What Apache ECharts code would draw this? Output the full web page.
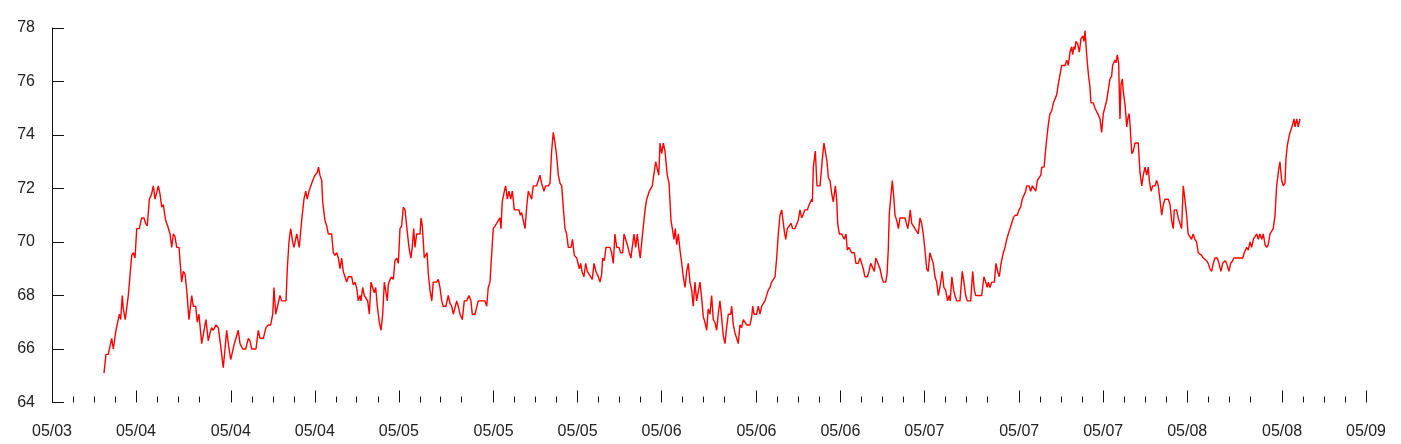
<!DOCTYPE html>
<html>
<head>
<meta charset="utf-8">
<script src="https://cdn.jsdelivr.net/npm/echarts@6/dist/echarts.min.js"></script>
<style>
html,body{margin:0;padding:0;background:#fff;}
#chart{width:1401px;height:444px;}
</style>
</head>
<body>
<div id="chart"></div>
<script>
// Elapsed hours from the left edge of the time axis
const hours = [
4.75,4.93,5.14,5.45,5.60,5.84,6.05,6.15,6.27,6.42,
6.51,6.69,6.97,7.28,7.42,7.58,7.74,7.97,8.19,8.40,
8.55,8.70,8.89,9.10,9.25,9.41,9.56,9.71,9.86,10.02,
10.16,10.38,10.57,10.78,10.93,11.08,11.23,11.39,11.60,11.84,
11.99,12.15,12.30,12.51,12.76,12.90,13.12,13.27,13.42,13.67,
13.82,14.06,14.27,14.43,14.58,14.73,14.98,15.19,15.41,15.64,
15.80,15.95,16.10,16.32,16.50,16.65,16.80,17.01,17.17,17.42,
17.69,17.93,18.08,18.24,18.63,18.84,19.00,19.30,19.54,19.75,
19.97,20.16,20.27,20.43,20.57,20.82,20.98,21.37,21.49,21.64,
21.80,21.98,22.10,22.35,22.58,22.80,23.01,23.17,23.31,23.47,
23.63,23.81,24.02,24.23,24.34,24.47,24.63,24.72,24.93,25.09,
25.23,25.54,25.69,25.84,26.00,26.15,26.30,26.45,26.60,26.76,
26.91,27.06,27.37,27.51,27.67,27.82,27.97,28.13,28.22,28.37,
28.52,28.67,28.83,28.98,29.13,29.28,29.43,29.56,29.71,29.89,
30.05,30.20,30.35,30.47,30.62,30.71,30.87,31.02,31.17,31.32,
31.48,31.63,31.78,31.93,32.08,32.24,32.39,32.60,32.78,32.90,
33.03,33.15,33.30,33.45,33.61,33.70,33.82,34.00,34.13,34.25,
34.37,34.52,34.68,34.82,35.13,35.28,35.43,35.59,35.73,35.98,
36.19,36.35,36.50,36.65,36.80,36.96,37.10,37.26,37.47,37.65,
37.87,38.08,38.26,38.38,38.63,38.79,38.93,39.24,39.54,39.70,
39.84,40.00,40.16,40.30,40.46,40.61,40.76,40.91,41.00,41.12,
41.31,41.43,41.58,41.73,41.89,42.04,42.22,42.44,42.65,42.77,
42.89,43.04,43.20,43.35,43.50,43.65,43.80,43.95,44.11,44.26,
44.41,44.56,44.71,44.93,45.08,45.32,45.48,45.63,45.78,45.94,
46.09,46.24,46.39,46.55,46.69,46.85,47.00,47.15,47.40,47.53,
47.70,47.92,48.16,48.28,48.40,48.58,48.74,48.89,49.04,49.20,
49.34,49.50,49.68,49.89,50.05,50.20,50.29,50.44,50.59,50.75,
50.96,51.11,51.26,51.41,51.57,51.78,51.93,52.12,52.24,52.42,
52.54,52.72,52.87,52.99,53.15,53.30,53.45,53.58,53.72,53.88,
54.00,54.16,54.31,54.46,54.55,54.70,54.82,54.98,55.13,55.28,
55.41,55.53,55.68,55.83,55.98,56.19,56.35,56.53,56.65,56.80,
56.92,57.05,57.20,57.35,57.51,57.65,57.81,57.96,58.11,58.26,
58.42,58.56,58.72,58.87,59.02,59.18,59.33,59.48,59.63,59.79,
59.93,60.09,60.24,60.39,60.54,60.70,60.84,61.00,61.15,61.30,
61.46,61.61,61.76,61.98,62.07,62.22,62.37,62.53,62.67,62.83,
62.98,63.13,63.29,63.44,63.74,63.90,63.99,64.11,64.35,64.50,
64.66,64.81,64.96,65.11,65.27,65.41,65.57,65.72,65.87,66.03,
66.18,66.33,66.48,66.64,66.76,66.88,67.01,67.15,67.33,67.49,
67.64,67.85,68.01,68.15,68.31,68.46,68.61,68.76,68.97,69.16,
69.38,69.44,69.53,69.71,69.86,70.14,70.35,70.50,70.66,70.78,
70.90,71.05,71.21,71.35,71.54,71.66,71.75,71.90,72.12,72.26,
72.35,72.51,72.63,72.78,72.87,73.03,73.27,73.42,73.63,73.79,
73.94,74.09,74.24,74.46,74.61,74.77,74.95,75.10,75.23,75.34,
75.46,75.62,75.77,75.92,76.14,76.26,76.37,76.47,76.63,76.74,
76.87,76.99,77.15,77.30,77.44,77.60,77.90,78.06,78.15,78.27,
78.38,78.51,78.66,78.81,78.97,79.11,79.27,79.42,79.57,79.72,
79.88,80.02,80.17,80.33,80.48,80.64,80.79,80.94,81.09,81.30,
81.45,81.61,81.79,81.94,82.03,82.18,82.34,82.46,82.62,82.92,
83.13,83.28,83.44,83.59,83.90,84.08,84.23,84.36,84.59,84.90,
85.11,85.27,85.42,85.51,85.66,85.82,86.06,86.21,86.36,86.51,
86.67,86.88,87.03,87.19,87.33,87.49,87.64,87.79,87.94,88.15,
88.31,88.46,88.61,88.77,88.92,89.01,89.22,89.38,89.53,89.71,
89.84,89.99,90.14,90.30,90.39,90.60,90.78,90.99,91.14,91.30,
91.45,91.60,91.75,91.90,92.06,92.21,92.36,92.51,92.67,92.81,
92.97,93.12,93.21,93.33,93.42,93.51,93.67,93.82,93.97,94.13,
94.25,94.34,94.49,94.64,94.79,94.88,95.10,95.25,95.41,95.50,
95.64,95.71,95.86,96.01,96.16,96.32,96.47,96.62,96.77,96.86,
96.98,97.07,97.17,97.29,97.41,97.53,97.63,97.75,97.84,98.00,
98.15,98.24,98.36,98.45,98.61,98.75,98.90,99.20,99.36,99.52,
99.66,99.82,99.97,100.12,100.21,100.37,100.52,100.73,100.88,101.03,
101.18,101.34,101.49,101.64,101.94,102.10,102.25,102.40,102.49,102.71,
102.85,103.01,103.16,103.31,103.46,103.62,103.76,103.92,104.07,104.22,
104.37,104.53,104.68,104.84,104.99,105.14,105.30,105.45,105.59,105.75,
105.90,106.05,106.21,106.42,106.57,106.75,106.91,107.12,107.27,107.48,
107.64,107.82,107.94,108.19,108.49,108.74,108.88,109.10,109.25,109.41,
109.56,109.71,109.87,110.02,110.17,110.32,110.48,110.62,110.78,110.93,
111.08,111.23,111.39,111.53,111.69,111.84,111.99,112.14,112.30,112.45,
112.60,112.69,112.81,113.00,113.15,113.31,113.42,113.52,113.67,113.82,113.97
];

// Temperature readings
const temps = [
65.1,65.8,65.8,66.4,66.0,66.7,67.1,67.3,67.1,68.0,
67.5,67.1,68.0,69.5,69.6,69.4,70.5,70.5,70.9,70.9,
70.7,70.6,71.6,71.8,72.1,71.6,71.6,72.1,71.8,71.3,
71.4,70.8,70.6,70.3,69.8,70.3,70.2,69.8,69.8,68.5,
68.9,68.8,68.2,67.1,68.0,67.6,67.6,67.0,67.3,66.2,
66.2,67.1,66.3,66.6,66.8,66.7,66.9,66.8,66.1,65.3,
66.0,66.7,66.2,65.6,65.6,66.2,66.4,66.7,66.2,66.0,
66.0,66.4,66.3,66.0,66.0,66.7,66.4,66.4,66.8,66.9,
66.9,67.3,68.3,67.3,67.3,68.0,67.8,67.8,69.0,70.0,
70.5,70.0,69.8,70.3,69.8,70.8,71.6,71.9,71.6,71.9,
71.9,72.3,72.5,72.6,72.8,72.5,72.3,71.5,70.8,70.6,
70.3,70.3,69.6,69.5,69.6,69.4,69.0,69.4,68.9,68.7,
68.5,68.7,68.7,68.4,68.5,68.3,67.8,68.0,67.8,68.3,
68.0,68.0,67.8,67.3,68.5,68.5,68.1,68.3,67.6,67.0,
66.7,67.3,68.5,68.2,67.8,68.4,68.6,68.7,68.6,69.3,
69.4,69.2,70.5,70.6,71.3,71.2,70.6,69.8,69.4,69.8,
70.5,69.8,70.3,70.3,70.3,70.9,70.6,69.4,69.4,69.6,
68.8,68.2,67.8,68.5,68.5,68.6,68.3,67.8,67.6,67.6,
68.0,67.7,67.6,67.3,67.3,67.8,67.6,67.3,67.1,67.8,
67.8,68.0,67.8,67.3,67.3,67.3,67.8,67.8,67.8,67.6,
68.3,68.5,69.6,70.5,70.5,70.7,70.7,70.9,70.5,71.5,
71.9,72.1,71.6,71.9,71.6,71.9,71.2,71.2,71.2,71.0,
71.1,70.8,70.5,71.3,71.9,71.9,71.6,72.1,72.1,72.1,
72.3,72.5,72.2,71.9,72.1,72.1,72.2,73.4,74.1,73.7,
73.2,72.5,72.2,72.1,71.3,70.5,70.3,69.8,69.8,70.1,
69.5,69.4,69.0,69.2,68.9,68.7,69.2,68.9,68.9,68.7,
68.6,69.2,68.9,68.7,68.5,68.8,69.4,69.3,69.8,69.8,
69.8,69.6,69.2,70.3,69.8,69.8,69.6,69.6,70.3,70.3,
69.9,69.6,69.4,69.8,70.3,69.8,70.3,69.8,69.4,70.1,
70.1,71.2,71.6,71.6,71.9,71.9,72.1,72.1,73.0,73.0,
72.5,73.7,73.3,73.7,73.4,72.5,72.2,70.8,70.5,70.1,
70.5,69.9,70.3,69.7,69.2,68.7,68.3,68.9,69.2,68.5,
68.2,67.6,68.5,67.8,67.8,68.5,67.9,67.2,67.0,66.7,
67.5,67.3,68.0,67.1,67.0,66.7,67.3,67.8,67.2,66.5,
66.2,66.8,67.3,67.3,67.6,66.9,66.6,66.4,66.2,66.9,
66.8,67.1,67.1,66.9,66.9,67.2,67.6,67.3,67.3,67.6,
67.3,67.6,67.6,67.8,67.8,68.2,68.3,68.5,68.5,68.7,
69.4,70.3,71.0,71.2,71.2,70.4,70.1,70.5,70.5,70.7,
70.5,70.5,70.5,70.8,71.2,70.9,70.9,71.2,71.2,71.4,
71.6,71.5,72.8,73.4,72.1,72.1,73.1,73.7,73.7,73.0,
72.4,72.3,71.8,71.5,72.1,71.6,70.7,70.3,70.3,70.3,
70.1,70.3,69.7,69.8,69.8,69.6,69.6,69.2,69.2,69.4,
69.2,69.0,68.7,68.7,68.9,69.2,69.2,68.9,69.4,69.3,
69.3,69.0,68.7,68.5,68.5,68.8,69.7,71.1,71.8,72.3,
71.7,71.0,70.8,70.5,70.9,70.9,70.9,70.9,70.5,70.8,
71.2,70.7,70.6,70.5,70.5,70.3,70.9,70.7,70.3,69.7,
69.0,68.9,69.6,69.6,69.2,68.7,68.5,68.0,68.3,68.9,
68.3,68.2,67.8,68.0,67.8,68.7,68.2,68.0,67.8,67.8,
68.9,68.5,68.0,67.8,67.8,68.9,68.2,68.0,68.0,68.0,
68.7,68.5,68.3,68.5,68.3,68.5,68.5,69.2,68.9,68.7,
69.2,69.6,69.8,70.1,70.3,70.5,70.7,70.9,71.0,71.0,
71.2,71.3,71.6,71.6,71.9,72.1,72.1,71.9,72.1,72.1,
71.9,72.3,72.4,72.5,72.8,72.8,73.6,74.4,74.8,74.9,
75.2,75.2,75.5,75.9,75.9,76.6,76.6,76.6,76.8,76.6,
77.1,77.3,77.0,77.3,77.2,77.5,77.4,77.1,77.6,77.7,
77.5,77.9,77.0,76.3,75.8,75.2,75.2,75.0,75.0,74.8,
74.8,74.6,74.1,74.8,74.8,75.3,75.7,76.1,76.2,76.6,
76.6,76.8,76.7,77.0,76.7,74.6,75.9,76.1,75.6,75.1,
74.3,74.6,74.8,74.4,73.3,73.4,73.7,73.7,72.6,72.1,
72.5,72.8,72.5,72.8,72.3,71.9,72.1,72.1,72.3,72.1,
71.6,71.0,71.4,71.6,71.6,71.4,70.8,70.5,71.2,71.2,
70.9,70.9,70.5,72.1,71.6,71.0,70.3,70.3,70.1,70.3,
70.1,70.0,69.6,69.6,69.5,69.4,69.4,69.3,69.2,69.0,
68.9,69.2,69.4,69.4,69.2,68.9,69.2,69.3,69.2,68.9,
69.2,69.3,69.4,69.4,69.4,69.4,69.6,69.8,69.7,70.0,
69.8,70.1,70.1,70.3,70.1,70.3,70.1,70.3,69.9,69.8,
69.9,70.3,70.3,70.5,71.0,72.1,72.6,73.0,72.3,72.1,
72.2,73.1,73.6,74.0,74.2,74.4,74.6,74.3,74.6,74.3,74.6
];

// Axis ticks (hours) and their labels
const majorTicks = [0, 7.67, 16.33, 24, 31.67, 40.33, 48, 55.67, 64.33, 72, 79.67, 88.33, 96, 103.67, 112.33, 120];
const tickLabels = ['05/03','05/04','05/04','05/04','05/05','05/05','05/05','05/06','05/06','05/06','05/07','05/07','05/07','05/08','05/08','05/09'];
const minorOffsets = [1.92, 3.83, 5.75];
const yTicks = [64, 66, 68, 70, 72, 74, 76, 78];

const minorTicks = [];
for (let i = 0; i < majorTicks.length - 1; i++) {
  minorOffsets.forEach(o => minorTicks.push(+(majorTicks[i] + o).toFixed(2)));
}

const n = Math.min(hours.length, temps.length);
const seriesData = [];
for (let i = 0; i < n; i++) seriesData.push([hours[i], temps[i]]);

const FONT = '"Liberation Sans", Arial, Helvetica, sans-serif';

const chart = echarts.init(document.getElementById('chart'), null, {renderer: 'canvas'});
chart.setOption({
  animation: false,
  backgroundColor: '#ffffff',
  grid: {left: 52, right: 35, top: 28, bottom: 41.5, containLabel: false},
  xAxis: [
    {
      type: 'value', position: 'bottom', min: 0, max: 120,
      axisLine: {show: false},
      splitLine: {show: false},
      axisTick: {show: true, inside: true, length: 12, customValues: majorTicks,
        lineStyle: {color: '#111', width: 1}},
      axisLabel: {show: true, customValues: majorTicks, margin: 21, hideOverlap: false,
        color: '#222', fontSize: 16, fontFamily: FONT,
        formatter: function (v) {
          for (let i = 0; i < majorTicks.length; i++) {
            if (Math.abs(majorTicks[i] - v) < 0.01) return tickLabels[i];
          }
          return '';
        }}
    },
    {
      type: 'value', position: 'bottom', min: 0, max: 120,
      axisLine: {show: false},
      splitLine: {show: false},
      axisTick: {show: true, inside: true, length: 6, customValues: minorTicks,
        lineStyle: {color: '#111', width: 1}},
      axisLabel: {show: false}
    }
  ],
  yAxis: {
    type: 'value', min: 64, max: 78, interval: 2,
    axisLine: {show: true, lineStyle: {color: '#111', width: 1}},
    axisTick: {show: true, inside: true, length: 12, lineStyle: {color: '#111', width: 1}},
    splitLine: {show: false},
    axisLabel: {color: '#222', fontSize: 16, fontFamily: FONT, margin: 17,
      customValues: yTicks}
  },
  series: [{
    type: 'line',
    xAxisIndex: 0,
    data: seriesData,
    showSymbol: false,
    symbol: 'none',
    lineStyle: {color: '#ff0000', width: 1.4},
    itemStyle: {color: '#ff0000'}
  }]
});
</script>
</body>
</html>
